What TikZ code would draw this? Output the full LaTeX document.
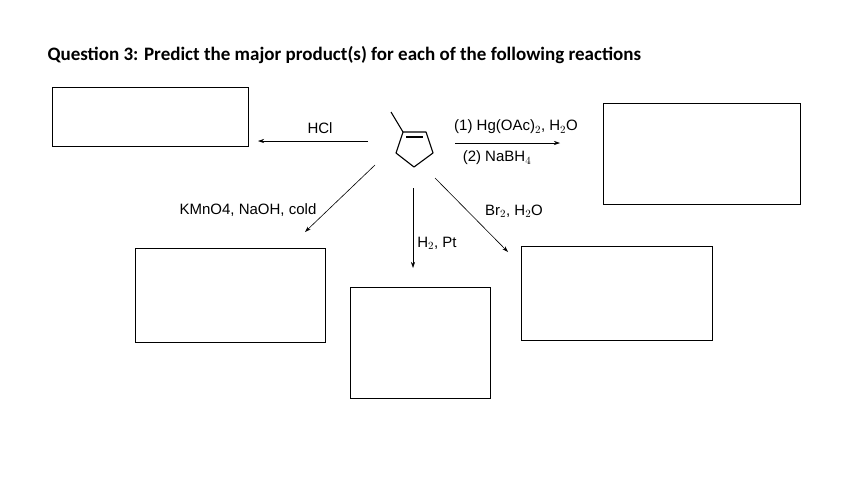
\documentclass[tikz,border=0pt]{standalone}
\usepackage{fontspec}
\usetikzlibrary{arrows.meta}
\setmainfont{Liberation Sans}
\newfontfamily\titlefont{Carlito}
\begin{document}
\begin{tikzpicture}[x=1pt,y=-1pt,
  pbox/.style={draw,thick},
  rarrow/.style={-{Stealth[length=6pt,width=4pt]},semithick},
  lbl/.style={font=\fontsize{15}{17}\selectfont,inner sep=1pt},
  bond/.style={line width=1.1pt}]
\useasboundingbox (0,0) rectangle (845,480);
\node[anchor=west,font=\titlefont\bfseries\fontsize{19}{22}\selectfont] (title) at (44,55) {Question 3: Predict the major product(s) for each of the following reactions};
\draw[pbox] (52,87) rectangle (248,146);
\draw[pbox] (603,103) rectangle (800,204);
\draw[pbox] (135,248) rectangle (325,342);
\draw[pbox] (350,287) rectangle (490,398);
\draw[pbox] (521,246) rectangle (712,340);
% molecule
\coordinate (me) at (391,112);
\coordinate (c1) at (403,132);
\coordinate (c2) at (426,132);
\coordinate (c3) at (433,153);
\coordinate (c4) at (414,167);
\coordinate (c5) at (396,153);
\draw[bond] (me)--(c1);
\draw[bond,line join=round] (c1)--(c2)--(c3)--(c4)--(c5)--cycle;
\draw[bond] (406,137)--(423,137);
% arrows
\coordinate (a1s) at (368,141); \coordinate (a1e) at (258,141);
\draw[rarrow] (a1s)--(a1e);
\node[lbl] (hcl) at (320,128) {HCl};
\coordinate (a2s) at (455,143); \coordinate (a2e) at (560,143);
\draw[rarrow] (a2s)--(a2e);
\node[lbl] (hg) at (516,127) {(1) Hg(OAc)$_2$, H$_2$O};
\node[lbl] (nab) at (497,158) {(2) NaBH$_4$};
\coordinate (a3s) at (375,165); \coordinate (a3e) at (305,232);
\draw[rarrow] (a3s)--(a3e);
\node[lbl] (km) at (248,210) {KMnO4, NaOH, cold};
\coordinate (a4s) at (413,188); \coordinate (a4e) at (413,268);
\draw[rarrow] (a4s)--(a4e);
\node[lbl] (h2) at (437,243) {H$_2$, Pt};
\coordinate (a5s) at (435,178); \coordinate (a5e) at (508,252);
\draw[rarrow] (a5s)--(a5e);
\node[lbl] (br) at (514,211) {Br$_2$, H$_2$O};
\end{tikzpicture}
\end{document}
